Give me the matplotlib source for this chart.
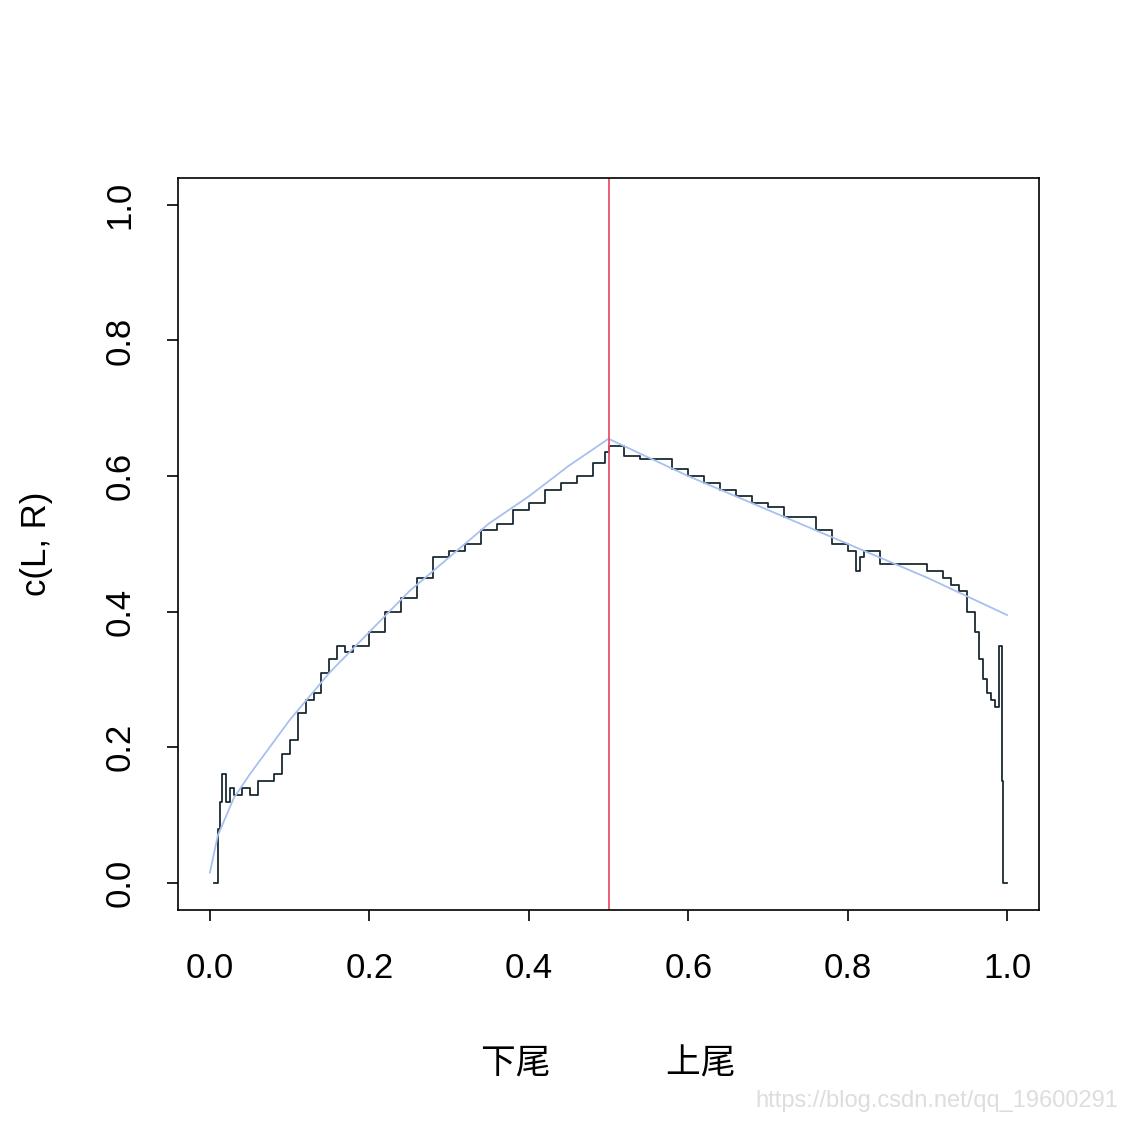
import matplotlib
matplotlib.use('Agg')
import matplotlib.pyplot as plt

emp_x = [0.005, 0.010, 0.013, 0.015, 0.020, 0.025, 0.030, 0.040, 0.050, 0.060, 0.070, 0.080,
         0.090, 0.100, 0.110, 0.120, 0.130, 0.140, 0.150, 0.160, 0.170, 0.180, 0.200, 0.220,
         0.240, 0.260, 0.280, 0.300, 0.320, 0.340, 0.360, 0.380, 0.400, 0.420, 0.440, 0.460,
         0.480, 0.495, 0.500, 0.520, 0.540, 0.560, 0.580, 0.600, 0.620, 0.640, 0.660, 0.680,
         0.700, 0.720, 0.740, 0.760, 0.780, 0.800, 0.810, 0.815, 0.820, 0.840, 0.860, 0.880,
         0.900, 0.920, 0.930, 0.940, 0.950, 0.960, 0.965, 0.970, 0.975, 0.980, 0.985, 0.990,
         0.993, 0.995, 1.000]
emp_y = [0.000, 0.080, 0.120, 0.160, 0.120, 0.140, 0.130, 0.140, 0.130, 0.150, 0.150, 0.160,
         0.190, 0.210, 0.250, 0.270, 0.280, 0.310, 0.330, 0.350, 0.340, 0.350, 0.370, 0.400,
         0.420, 0.450, 0.480, 0.490, 0.500, 0.520, 0.530, 0.550, 0.560, 0.580, 0.590, 0.600,
         0.620, 0.635, 0.645, 0.630, 0.625, 0.625, 0.610, 0.600, 0.590, 0.580, 0.570, 0.560,
         0.555, 0.540, 0.540, 0.520, 0.500, 0.490, 0.460, 0.480, 0.490, 0.470, 0.470, 0.470,
         0.460, 0.450, 0.440, 0.430, 0.400, 0.370, 0.330, 0.300, 0.280, 0.270, 0.260, 0.350,
         0.150, 0.000, 0.000]

# fitted curve
fit_x = [0.0, 0.01, 0.03, 0.05, 0.10, 0.15, 0.20, 0.25, 0.30, 0.35, 0.40, 0.45, 0.50,
         0.60, 0.70, 0.80, 0.90, 1.00]
fit_y = [0.015, 0.07, 0.125, 0.16, 0.24, 0.31, 0.37, 0.43, 0.48, 0.53, 0.57, 0.615, 0.655,
         0.60, 0.55, 0.50, 0.45, 0.395]

ticks = [0.0, 0.2, 0.4, 0.6, 0.8, 1.0]

plt.rcParams['font.family'] = ['Liberation Sans', 'Noto Sans CJK SC', 'DejaVu Sans']

fig = plt.figure(figsize=(11.3, 11.3), dpi=100)
ax = fig.add_axes([0.1575, 0.1947, 0.762, 0.648])

ax.plot(emp_x, emp_y, color='#1a2a33', linewidth=1.3, drawstyle='steps-post')
ax.plot(fit_x, fit_y, color='#a8c0f0', linewidth=1.3)
ax.axvline(0.5, color='#e8506a', linewidth=1.3)

ax.set_xlim(-0.04, 1.04)
ax.set_ylim(-0.04, 1.04)
ax.set_xticks(ticks)
ax.set_yticks(ticks)
ax.set_xticklabels([f'{t:.1f}' for t in ticks])
ax.set_yticklabels([f'{t:.1f}' for t in ticks], rotation=90, va='center')
ax.tick_params(labelsize=25, length=8, width=1.2, pad=22)
for s in ax.spines.values():
    s.set_linewidth(1.2)

ax.set_ylabel('c(L, R)', fontsize=25, labelpad=36)
ax.set_xlabel('下尾            上尾', fontsize=25, labelpad=45)

fig.text(0.99, 0.02, 'https://blog.csdn.net/qq_19600291', ha='right', fontsize=17,
         color='#dddddd')

fig.savefig('out.png', dpi=100)
